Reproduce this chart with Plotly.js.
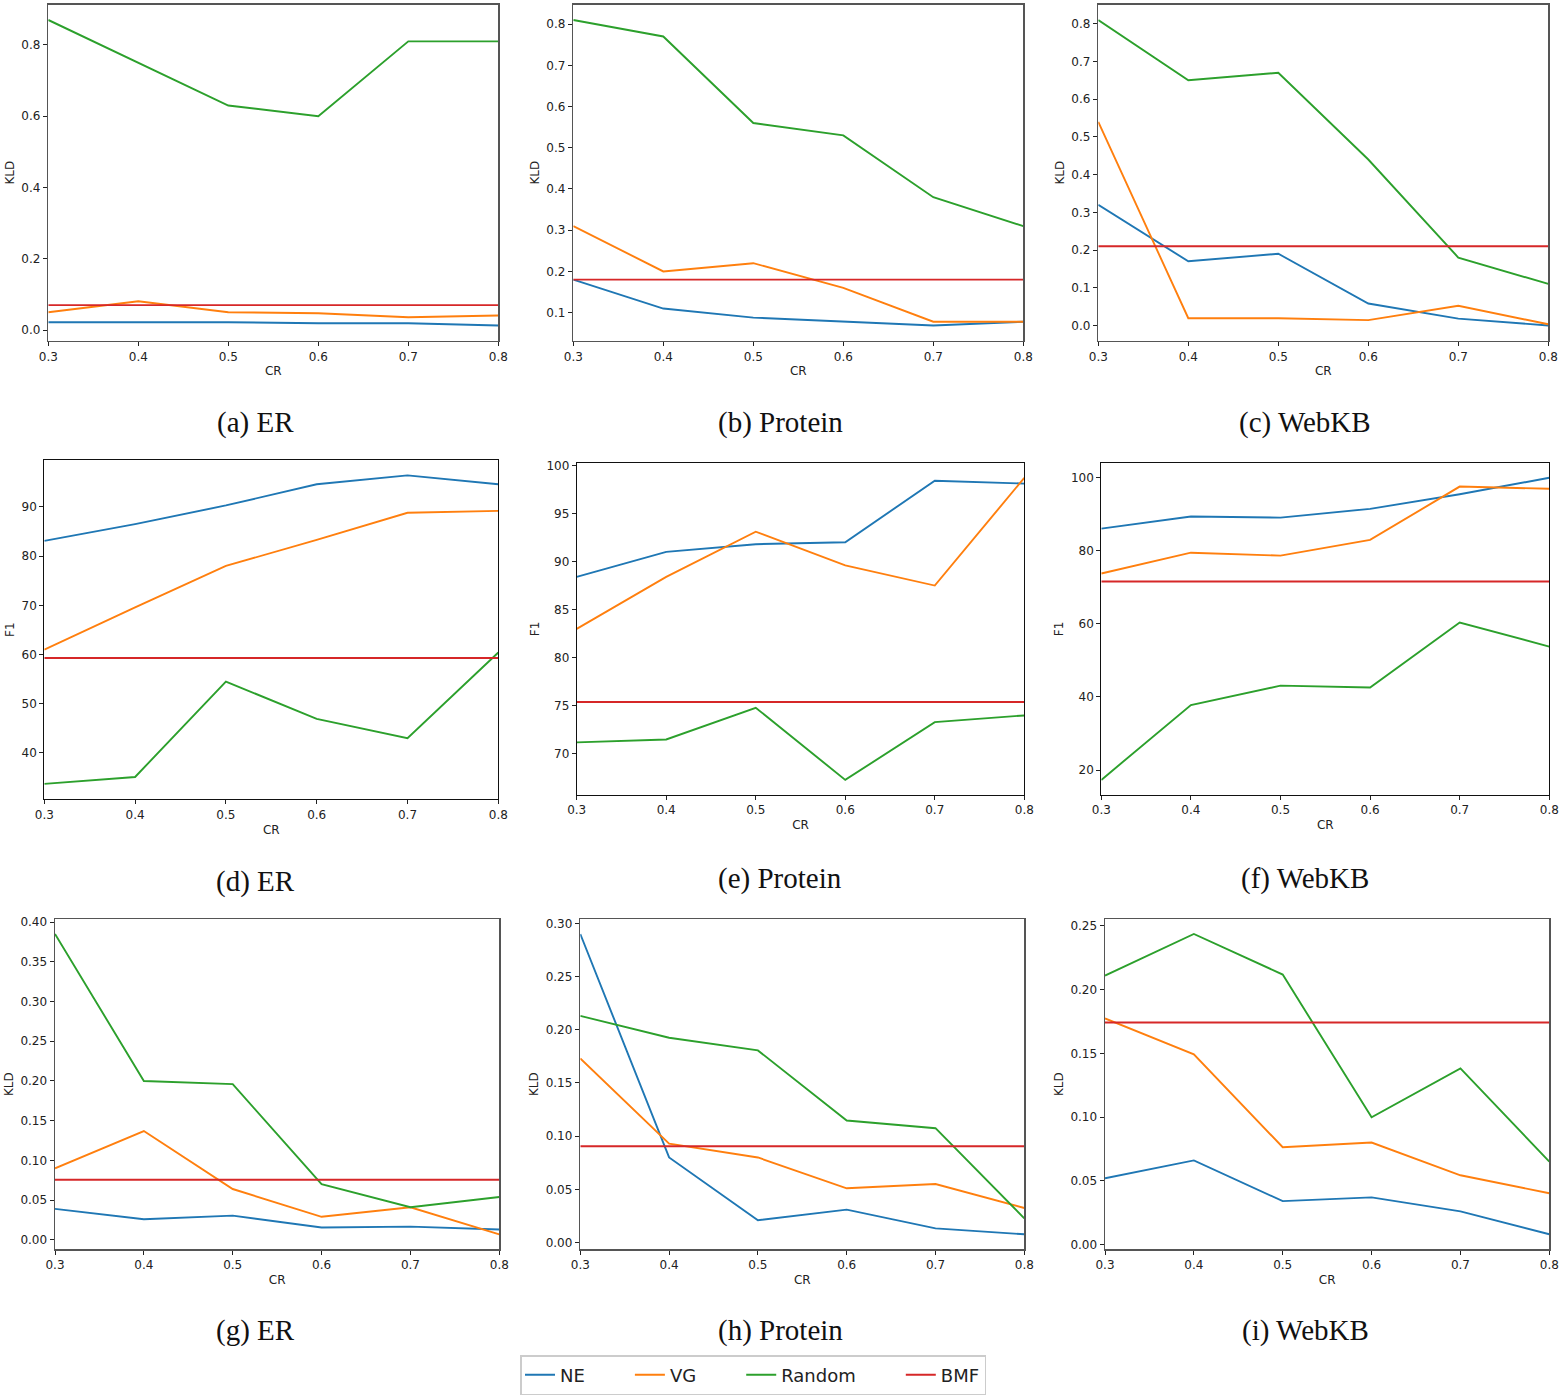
<!DOCTYPE html>
<html>
<head>
<meta charset="utf-8">
<script src="https://cdn.plot.ly/plotly-3.0.1.min.js"></script>
<style>
  body { margin: 0; background: #fff; }
  #chart { width: 1561px; height: 1398px; }
</style>
</head>
<body>
<div id="chart"></div>
<script>
// compression ratio values on the x axis
var cr = [0.3, 0.4, 0.5, 0.6, 0.7, 0.8];
var series_names = ["NE", "VG", "Random", "BMF"];

// (a) ER, KLD
var er_kld_ne = [0.022, 0.022, 0.022, 0.019, 0.019, 0.013];
var er_kld_vg = [0.050, 0.081, 0.050, 0.047, 0.036, 0.041];
var er_kld_random = [0.87, 0.75, 0.63, 0.60, 0.81, 0.81];
var er_kld_bmf = 0.070;

// (b) Protein, KLD
var protein_kld_ne = [0.18, 0.11, 0.088, 0.078, 0.069, 0.078];
var protein_kld_vg = [0.31, 0.20, 0.22, 0.16, 0.078, 0.078];
var protein_kld_random = [0.81, 0.77, 0.56, 0.53, 0.38, 0.31];
var protein_kld_bmf = 0.18;

// (c) WebKB, KLD
var webkb_kld_ne = [0.32, 0.17, 0.19, 0.058, 0.018, 0.0];
var webkb_kld_vg = [0.54, 0.019, 0.019, 0.014, 0.052, 0.003];
var webkb_kld_random = [0.81, 0.65, 0.67, 0.44, 0.18, 0.11];
var webkb_kld_bmf = 0.21;

// (d) ER, F1
var er_f1_ne = [83.1, 86.5, 90.3, 94.6, 96.4, 94.6];
var er_f1_vg = [61.0, 69.6, 78.0, 83.3, 88.8, 89.2];
var er_f1_random = [33.7, 35.1, 54.5, 46.9, 43.0, 60.4];
var er_f1_bmf = 59.3;

// (e) Protein, F1
var protein_f1_ne = [88.4, 91.0, 91.8, 92.0, 98.4, 98.1];
var protein_f1_vg = [83.0, 88.4, 93.1, 89.6, 87.5, 98.7];
var protein_f1_random = [71.2, 71.5, 74.8, 67.3, 73.3, 74.0];
var protein_f1_bmf = 75.4;

// (f) WebKB, F1
var webkb_f1_ne = [86.1, 89.4, 89.1, 91.5, 95.5, 100.0];
var webkb_f1_vg = [73.8, 79.5, 78.7, 83.0, 97.6, 97.0];
var webkb_f1_random = [17.3, 37.8, 43.1, 42.6, 60.4, 53.8];
var webkb_f1_bmf = 71.6;

// (g) ER, KLD
var er_kld2_ne = [0.039, 0.026, 0.0305, 0.0155, 0.0167, 0.013];
var er_kld2_vg = [0.090, 0.137, 0.064, 0.029, 0.041, 0.007];
var er_kld2_random = [0.385, 0.200, 0.196, 0.070, 0.041, 0.054];
var er_kld2_bmf = 0.0757;

// (h) Protein, KLD
var protein_kld2_ne = [0.290, 0.080, 0.021, 0.031, 0.0134, 0.0078];
var protein_kld2_vg = [0.173, 0.093, 0.080, 0.051, 0.055, 0.0325];
var protein_kld2_random = [0.213, 0.1925, 0.1806, 0.1147, 0.1075, 0.0228];
var protein_kld2_bmf = 0.0906;

// (i) WebKB, KLD
var webkb_kld2_ne = [0.052, 0.066, 0.034, 0.037, 0.026, 0.008];
var webkb_kld2_vg = [0.1774, 0.1492, 0.0763, 0.080, 0.0543, 0.0402];
var webkb_kld2_random = [0.2111, 0.2437, 0.2119, 0.0998, 0.1382, 0.065];
var webkb_kld2_bmf = 0.1742;

var captions = ["(a) ER", "(b) Protein", "(c) WebKB",
                "(d) ER", "(e) Protein", "(f) WebKB",
                "(g) ER", "(h) Protein", "(i) WebKB"];
var ylabels = ["KLD", "KLD", "KLD", "F1", "F1", "F1", "KLD", "KLD", "KLD"];


var colors = ["#1f77b4", "#ff7f0e", "#2ca02c", "#d62728"];
var W = 1561, H = 1398;

// panel boxes in pixels: left, right, top, bottom
var boxes = [
    [48.3, 498.3, 4.7, 340.7], [573.3, 1023.3, 4.7, 340.7], [1098.3, 1548.3, 4.7, 340.7],
    [44.3, 498.3, 460, 799.3], [576.7, 1024.3, 462.7, 795], [1101.3, 1549.3, 462.7, 795],
    [55, 499.3, 919, 1249.3], [580.3, 1024.3, 919, 1249.3], [1105, 1549.3, 919, 1249.3]
];
var caption_pos = [[255, 422], [780, 422], [1305, 422],
                   [255, 881], [780, 878], [1305, 878],
                   [255, 1330], [780, 1330], [1305, 1330]];
var ytick = [[0.2, ".1f"], [0.1, ".1f"], [0.1, ".1f"],
             [10, "d"], [5, "d"], [20, "d"],
             [0.05, ".2f"], [0.05, ".2f"], [0.05, ".2f"]];
// extra space after each legend entry (matplotlib column spacing)
var legend_pad = ["\u00a0".repeat(7), "\u00a0".repeat(7), "\u00a0".repeat(7), ""];

var panels = [
    [er_kld_ne, er_kld_vg, er_kld_random, er_kld_bmf],
    [protein_kld_ne, protein_kld_vg, protein_kld_random, protein_kld_bmf],
    [webkb_kld_ne, webkb_kld_vg, webkb_kld_random, webkb_kld_bmf],
    [er_f1_ne, er_f1_vg, er_f1_random, er_f1_bmf],
    [protein_f1_ne, protein_f1_vg, protein_f1_random, protein_f1_bmf],
    [webkb_f1_ne, webkb_f1_vg, webkb_f1_random, webkb_f1_bmf],
    [er_kld2_ne, er_kld2_vg, er_kld2_random, er_kld2_bmf],
    [protein_kld2_ne, protein_kld2_vg, protein_kld2_random, protein_kld2_bmf],
    [webkb_kld2_ne, webkb_kld2_vg, webkb_kld2_random, webkb_kld2_bmf]
];


// matplotlib style autoscale: 5% margin on each side
function padded_range(values)
{
    let lo = Math.min.apply(null, values);
    let hi = Math.max.apply(null, values);
    let m = (hi - lo) * 0.05;
    return [lo - m, hi + m];
}


var traces = [];
var layout = {
    width: W, height: H,
    margin: {l: 0, r: 0, t: 0, b: 0},
    paper_bgcolor: "#fff",
    plot_bgcolor: "#fff",
    font: {family: "DejaVu Sans", size: 12, color: "#222"},
    showlegend: true,
    legend: {
        orientation: "h",
        x: 753 / W, xanchor: "center",
        y: 1 - 1375 / H, yanchor: "middle",
        font: {family: "DejaVu Sans", size: 18, color: "#222"},
        bordercolor: "#cccccc", borderwidth: 1.5,
        bgcolor: "#fff",
        tracegroupgap: 0
    },
    annotations: []
};

for (let p = 0; p < 9; ++p)
{
    let suffix = p == 0 ? "" : String(p + 1);
    let xa = "x" + suffix, ya = "y" + suffix;
    let d = panels[p];
    let bmf_line = cr.map(() => d[3]);
    let lines = [d[0], d[1], d[2], bmf_line];
    for (let s = 0; s < 4; ++s)
    {
        traces.push({
            x: cr, y: lines[s], xaxis: xa, yaxis: ya,
            type: "scatter", mode: "lines",
            name: series_names[s] + legend_pad[s],
            legendgroup: series_names[s],
            showlegend: p == 0,
            line: {color: colors[s], width: 1.9},
            hoverinfo: "skip"
        });
    }

    let b = boxes[p];
    let frame = (p >= 3 && p < 6) ? "#111" : "#555";
    let fw = (p >= 3 && p < 6) ? 1 : 1.5;
    layout["xaxis" + suffix] = {
        domain: [b[0] / W, b[1] / W],
        anchor: ya,
        range: [0.3, 0.8],
        dtick: 0.1, tick0: 0.3, tickformat: ".1f",
        ticks: "outside", ticklen: 4, tickwidth: 1, tickcolor: "#222",
        showline: true, linecolor: frame, linewidth: fw, mirror: true,
        showgrid: false, zeroline: false,
        title: {text: "CR", font: {size: 12}, standoff: 4}
    };
    layout["yaxis" + suffix] = {
        domain: [1 - b[3] / H, 1 - b[2] / H],
        anchor: xa,
        range: padded_range(d[0].concat(d[1], d[2], [d[3]])),
        dtick: ytick[p][0], tick0: 0, tickformat: ytick[p][1],
        ticks: "outside", ticklen: 4, tickwidth: 1, tickcolor: "#222",
        showline: true, linecolor: frame, linewidth: fw, mirror: true,
        showgrid: false, zeroline: false,
        title: {text: ylabels[p], font: {size: 12}, standoff: 4}
    };
    layout.annotations.push({
        text: captions[p],
        xref: "paper", yref: "paper",
        x: caption_pos[p][0] / W, y: 1 - caption_pos[p][1] / H,
        xanchor: "center", yanchor: "middle",
        showarrow: false,
        font: {family: "Liberation Serif", size: 29, color: "#111"}
    });
}

Plotly.newPlot("chart", traces, layout, {displayModeBar: false, staticPlot: true});
</script>
</body>
</html>
